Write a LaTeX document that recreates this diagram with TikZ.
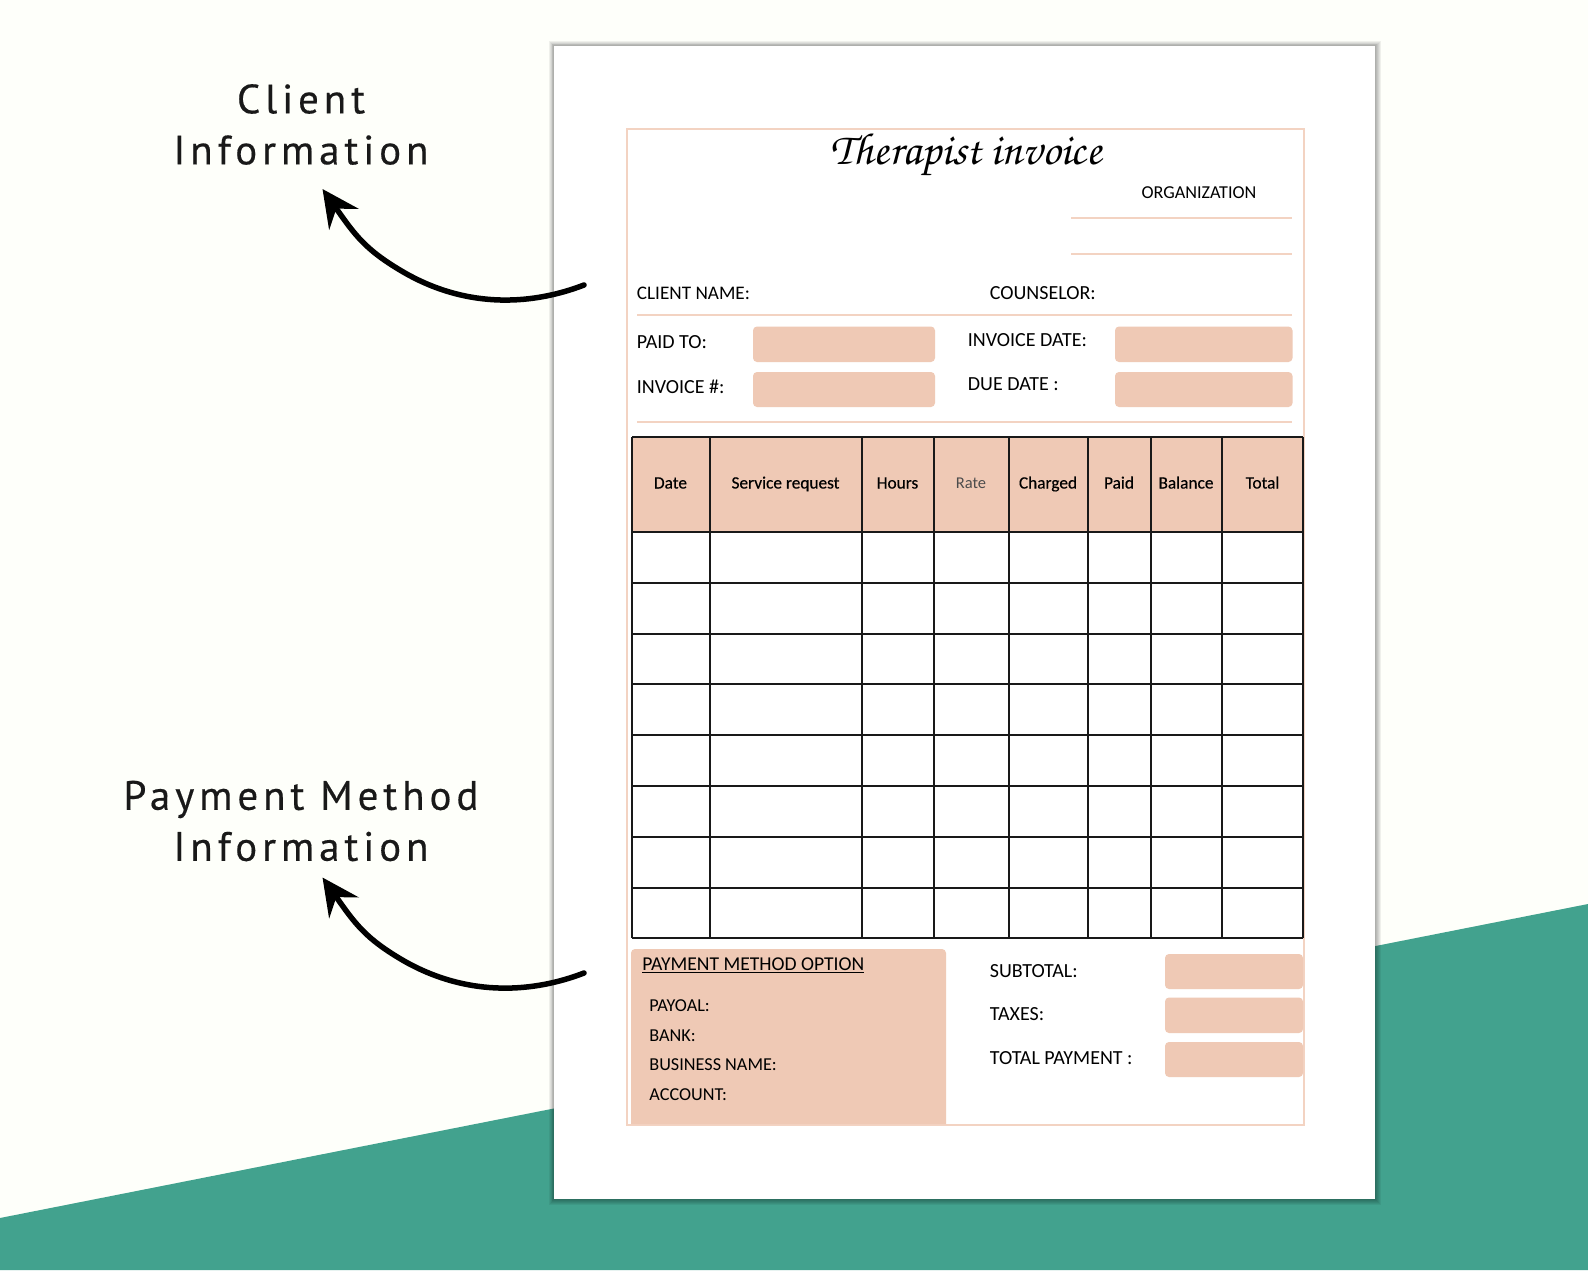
\documentclass[tikz,border=0pt]{standalone}
\usepackage{fontspec}
\usetikzlibrary{arrows.meta}
\setmainfont{Carlito}
\newfontfamily\labelfont[LetterSpace=12,FakeBold=0.4]{PT Sans}
\newfontfamily\headfont[FakeBold=0.4]{Carlito}
\definecolor{ivory}{HTML}{FEFFFA}
\definecolor{teal}{HTML}{42A28E}
\definecolor{peach}{HTML}{EFC9B5}
\definecolor{rule}{HTML}{F3D3C2}
\newcommand{\titlefont}{\fontencoding{T1}\fontfamily{pzc}\fontseries{mb}\fontshape{it}\fontsize{45}{50}\selectfont}

\begin{document}
\begin{tikzpicture}[x=1pt, y=-1pt, thick,
  side label/.style={align=center, inner sep=0pt, text=black!90, font=\fontsize{41}{51}\selectfont\labelfont},
  form text/.style={anchor=west, inner sep=0pt, text height=13pt, text depth=0pt, font=\fontsize{20}{22}\selectfont},
  small text/.style={form text, font=\fontsize{18.2}{20}\selectfont},
  head text/.style={inner sep=0pt, text height=11pt, text depth=0pt, font=\fontsize{17.3}{20}\selectfont\headfont},
  field box/.style={fill=peach, rounded corners=4pt},
  thin rule/.style={rule, line width=2pt},
  grid line/.style={black!90, line width=2pt},
  call arrow/.style={-{Stealth[length=37pt, width=36pt, inset=13pt]}, line width=5.5pt, line cap=round, black}]

\useasboundingbox (0,0) rectangle (1588,1270);
\fill[ivory] (0,0) rectangle (1588,1270);
\fill[teal] (0,1218) -- (1588,904) -- (1588,1270) -- (0,1270) -- cycle;

% page with its soft shadow
\foreach \s in {1,...,6}
  \fill[black, opacity=.06] (554-\s*.8,46-\s*.8) rectangle (1375+\s,1199+\s);
\fill[white] (554,46) rectangle (1375,1199);

\draw[rule, line width=2pt] (627,129) rectangle (1303.5,1124.5);

% head of the form
\node (title) at (966,155) {\titlefont Therapist invoice};
\node[small text, anchor=center] (org) at (1199,191.5) {ORGANIZATION};
\draw[thin rule] (1071,218) -- (1292,218);
\draw[thin rule] (1071,253.5) -- (1292,253.5);

\node[form text, font=\fontsize{19.2}{20}\selectfont] (client) at (636.5,293) {CLIENT NAME:};
\node[form text] (counselor) at (989.5,293) {COUNSELOR:};
\draw[thin rule] (637,314.5) -- (1292,314.5);

\node[form text] (paid to) at (636.5,342) {PAID TO:};
\node[form text] (invoice no) at (636.5,386.5) {INVOICE \#:};
\node[form text] (invoice date) at (967.5,339.5) {INVOICE DATE:};
\node[form text] (due date) at (967.5,384) {DUE DATE :};
\fill[field box] (753,326.5) rectangle (935,362);
\fill[field box] (753,372) rectangle (935,407);
\fill[field box] (1115,326.5) rectangle (1292.5,362);
\fill[field box] (1115,372) rectangle (1292.5,407);
\draw[thin rule] (637,421.5) -- (1292,421.5);

% table
\fill[peach] (632,437) rectangle (1303,532);
\node[head text] (date) at (670.5,483) {Date};
\node[head text] (service) at (785.5,483) {Service request};
\node[head text] (hours) at (897.5,483) {Hours};
\node[head text, text=black!70, font=\fontsize{16.5}{20}\selectfont] (rate) at (971,483) {Rate};
\node[head text] (charged) at (1048,483) {Charged};
\node[head text] (paid) at (1119,483) {Paid};
\node[head text] (balance) at (1186,483) {Balance};
\node[head text] (total) at (1262.5,483) {Total};
\foreach \r in {437,532,582.8,633.6,684.4,735.2,786,836.8,887.6,938.4}
  \draw[grid line] (632,\r) -- (1303,\r);
\foreach \c in {632,709.5,861.5,933.5,1008.5,1087.5,1150.5,1222,1303}
  \draw[grid line] (\c,437) -- (\c,938.4);

% payment part
\fill[peach] (631,1124) -- (631,953) arc[start angle=180, end angle=90, radius=4pt] -- (942,949) arc[start angle=90, end angle=0, radius=4pt] -- (946,1124) -- cycle;
\node[form text, font=\fontsize{19.6}{22}\selectfont] (option) at (642,964) {\underline{PAYMENT METHOD OPTION}};
\node[small text] (payoal) at (649,1004.5) {PAYOAL:};
\node[small text] (bank) at (649,1034.5) {BANK:};
\node[small text] (business) at (649,1064) {BUSINESS NAME:};
\node[small text] (account) at (649,1094) {ACCOUNT:};

\node[form text] (subtotal) at (989.5,970.5) {SUBTOTAL:};
\node[form text] (taxes) at (989.5,1013.5) {TAXES:};
\node[form text] (total payment) at (989.5,1057.5) {TOTAL PAYMENT :};
\fill[field box] (1165,954) rectangle (1303,989);
\fill[field box] (1165,997.5) rectangle (1303,1033);
\fill[field box] (1165,1042) rectangle (1303,1077);

% labels and arrows
\node[side label] (client label) at (301,124.5) {Client\\Information};
\node[side label] (payment label) at (301,821) {Payment Method\\Information};

\coordinate (client tail) at (584,285);
\coordinate (client tip) at (322.5,189);
\coordinate (payment tail) at (584,973);
\coordinate (payment tip) at (322.5,877.5);

\draw[call arrow] (client tail) .. controls (535,304) and (470,310) .. (405,273) .. controls (365,250) and (355,235) .. (client tip);
\draw[call arrow] (payment tail) .. controls (535,992) and (470,998) .. (405,961.5) .. controls (365,938.5) and (355,923.5) .. (payment tip);

\end{tikzpicture}
\end{document}
